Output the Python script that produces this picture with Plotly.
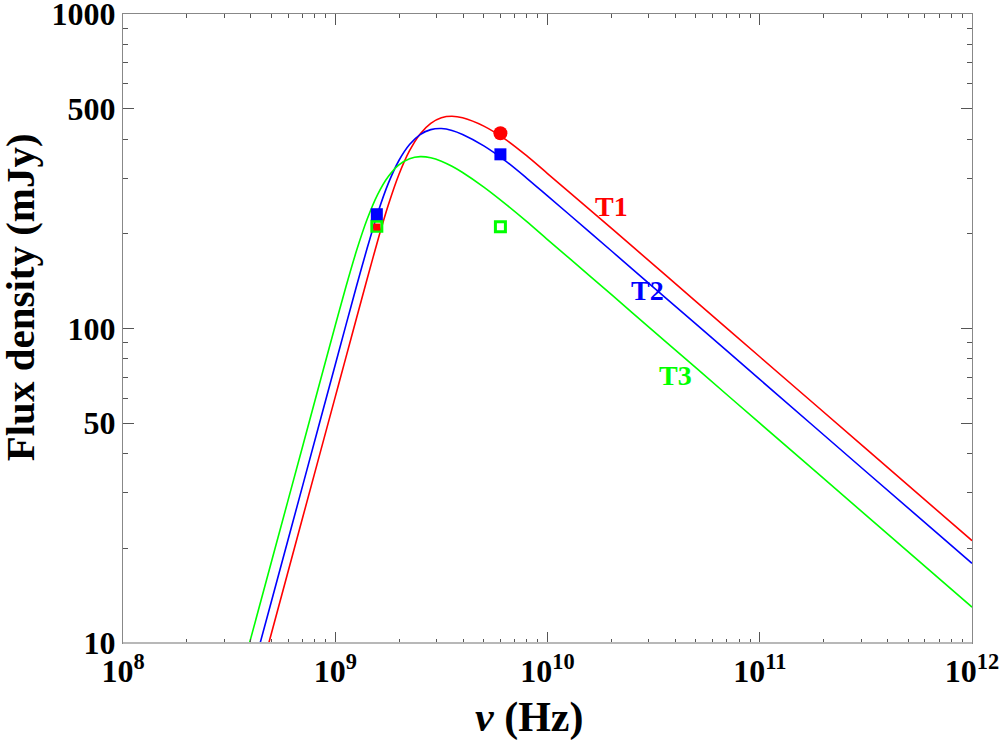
import plotly.graph_objects as go

# frequencies (Hz) at which the curves were read
nu = [3.548e8, 5.012e8, 7.079e8, 1.0e9, 1.122e9, 1.259e9, 1.413e9, 1.585e9, 1.778e9, 1.995e9,
      2.239e9, 2.512e9, 2.818e9, 3.162e9, 3.548e9, 3.981e9, 5.012e9, 6.310e9, 7.943e9, 1.0e10,
      1.585e10, 2.512e10, 5.012e10, 1.0e11, 3.162e11, 1.0e12]
# flux density (mJy) of the three curves
T1 = [4.55, 10.78, 25.56, 60.6, 80.8, 107.8, 143.6, 190.2, 246.8, 308.7,
      367.5, 415.8, 449.4, 468.0, 473.0, 467.8, 440.0, 400.0, 355.0, 311.0,
      238.5, 182.4, 121.8, 81.3, 41.5, 21.15]
T2 = [5.75, 13.63, 32.3, 76.7, 102.3, 136.2, 179.9, 232.7, 289.3, 342.2,
      384.7, 413.8, 428.9, 432.3, 426.5, 414.2, 381.0, 342.0, 301.5, 264.0,
      202.2, 154.5, 103.2, 68.9, 35.1, 17.92]
T3 = [7.67, 18.18, 43.1, 102.2, 135.5, 176.6, 222.4, 267.0, 304.3, 331.4,
      346.7, 351.9, 349.1, 340.4, 327.9, 313.3, 281.5, 249.5, 219.5, 191.8,
      146.8, 112.2, 74.9, 50.0, 25.5, 13.0]

# observed points
obs1_nu = [6.0e9]
obs1_f = [417.6]
obs1_low_nu = [1.57e9]
obs1_low_f = [210.2]
obs2_nu = [1.57e9, 6.0e9]
obs2_f = [230.9, 358.0]
obs3_nu = [1.57e9, 6.0e9]
obs3_f = [211.3, 210.7]

y_ticks = [10, 50, 100, 500, 1000]
y_minor = [20, 30, 40, 60, 70, 80, 90, 200, 300, 400, 600, 700, 800, 900]
x_ticks = [1e8, 1e9, 1e10, 1e11, 1e12]
x_text = ["10<sup>8</sup>", "10<sup>9</sup>", "10<sup>10</sup>", "10<sup>11</sup>", "10<sup>12</sup>"]

RED, BLUE, GREEN = "#ff0000", "#0000ff", "#00ff00"

fig = go.Figure()
for ys, c in [(T1, RED), (T2, BLUE), (T3, GREEN)]:
    fig.add_trace(go.Scatter(x=nu, y=ys, mode="lines", line=dict(color=c, width=1.6, shape="spline", smoothing=0.8),
                             showlegend=False, hoverinfo="skip"))

fig.add_trace(go.Scatter(x=obs3_nu, y=obs3_f, mode="markers",
                         marker=dict(symbol="square-open", size=10, color=GREEN, line=dict(color=GREEN, width=3)),
                         showlegend=False))
fig.add_trace(go.Scatter(x=obs2_nu, y=obs2_f, mode="markers",
                         marker=dict(symbol="square", size=12, color=BLUE, line=dict(width=0)),
                         showlegend=False))
fig.add_trace(go.Scatter(x=obs1_low_nu, y=obs1_low_f, mode="markers",
                         marker=dict(symbol="square", size=7, color=RED, line=dict(width=0)),
                         showlegend=False))
fig.add_trace(go.Scatter(x=obs1_nu, y=obs1_f, mode="markers",
                         marker=dict(symbol="circle", size=14, color=RED, line=dict(width=0)),
                         showlegend=False))

FONT = "Liberation Serif"
tickfont = dict(family=FONT, size=32, color="black", weight="bold")

fig.update_xaxes(type="log", range=[8, 12], tickvals=x_ticks, ticktext=x_text, automargin=False,
                 ticklabeloverflow="allow",
                 ticks="inside", ticklen=11, tickcolor="#555", tickwidth=1,
                 showline=True, linecolor="#888", linewidth=1, mirror="ticks",
                 showgrid=False, zeroline=False, tickfont=tickfont,
                 minor=dict(ticks="inside", ticklen=4, tickcolor="#555", dtick="D1", showgrid=False))
fig.update_yaxes(type="log", range=[0.9999, 3.0001], tickvals=y_ticks, ticktext=[str(v) for v in y_ticks],
                 automargin=False, ticklabeloverflow="allow",
                 ticks="inside", ticklen=11, tickcolor="#555", tickwidth=1,
                 showline=True, linecolor="#888", linewidth=1, mirror="ticks",
                 showgrid=False, zeroline=False, tickfont=tickfont,
                 minor=dict(ticks="inside", ticklen=5, tickcolor="#555", tickvals=y_minor, showgrid=False))

fig.add_shape(type="line", xref="paper", yref="paper", x0=0, x1=1, y0=0, y1=0,
              line=dict(color="#b8b8b8", width=2), layer="above")

# axis titles
fig.add_annotation(xref="paper", yref="paper", x=-0.121, y=0.55, xanchor="center", yanchor="middle",
                   text="Flux density (mJy)", textangle=-90, showarrow=False,
                   font=dict(family=FONT, size=41, color="black", weight="bold"))
fig.add_annotation(xref="paper", yref="paper", x=0.478, y=-0.119, xanchor="center", yanchor="middle",
                   text="<i>ν</i> (Hz)", showarrow=False,
                   font=dict(family=FONT, size=42, color="black", weight="bold"))

for txt, lx, ly, c in [("T1", 10.30, 2.387, RED), ("T2", 10.4725, 2.122, BLUE), ("T3", 10.602, 1.852, GREEN)]:
    fig.add_annotation(x=lx, y=ly, xref="x", yref="y", text=txt, showarrow=False,
                       font=dict(family=FONT, size=28, color=c, weight="bold"))

fig.update_layout(width=1000, height=741, margin=dict(l=123, r=28, t=14, b=98),
                  paper_bgcolor="white", plot_bgcolor="white")

fig.write_html("out.html")
